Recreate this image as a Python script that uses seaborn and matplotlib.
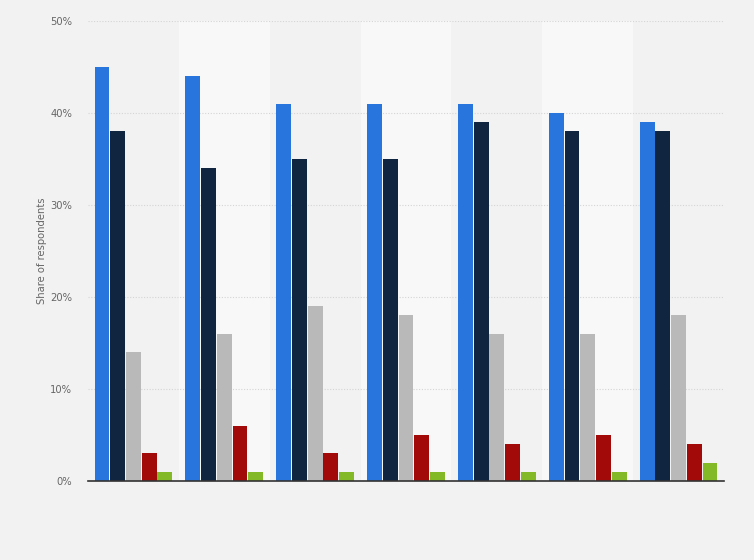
import pandas as pd
import matplotlib.pyplot as plt
import seaborn as sns
from matplotlib.ticker import FuncFormatter

# values (percent)
groups = ['G1', 'G2', 'G3', 'G4', 'G5', 'G6', 'G7']
series = ['Series 1', 'Series 2', 'Series 3', 'Series 4', 'Series 5']
s1 = [45, 44, 41, 41, 41, 40, 39]
s2 = [38, 34, 35, 35, 39, 38, 38]
s3 = [14, 16, 19, 18, 16, 16, 18]
s4 = [3, 6, 3, 5, 4, 5, 4]
s5 = [1, 1, 1, 1, 1, 1, 2]
colors = ['#2876dd', '#10253f', '#b9b9b9', '#a20a0a', '#83b827']

rows = []
for name, vals in zip(series, [s1, s2, s3, s4, s5]):
    for g, v in zip(groups, vals):
        rows.append({'group': g, 'series': name, 'value': v})
df = pd.DataFrame(rows)

bg = '#f2f2f2'
fig = plt.figure(figsize=(7.54, 5.6), dpi=100, facecolor=bg)
ax = fig.add_axes([88 / 754, 79 / 560, 636 / 754, 460 / 560])
ax.set_facecolor(bg)

# alternating column bands
for i in range(len(groups)):
    if i % 2 == 1:
        ax.axvspan(i - 0.5, i + 0.5, color='#f8f8f8', zorder=0, lw=0)

sns.barplot(data=df, x='group', y='value', hue='series', palette=colors,
            saturation=1, width=0.865, gap=0.05, legend=False, ax=ax, zorder=3,
            edgecolor='none', linewidth=0)

ax.set_xlim(-0.5, len(groups) - 0.5)
ax.set_ylim(0, 50)
ax.set_yticks([0, 10, 20, 30, 40, 50])
ax.yaxis.set_major_formatter(FuncFormatter(lambda v, p: f'{int(v)}%'))
ax.grid(axis='y', color='#d5d5d5', linestyle=(0, (1, 1.5)), linewidth=0.8, zorder=1)
ax.set_axisbelow(True)

for s in ['top', 'right', 'left']:
    ax.spines[s].set_visible(False)
ax.spines['bottom'].set_color('#333333')
ax.spines['bottom'].set_linewidth(1.2)
ax.spines['bottom'].set_zorder(5)

ax.set_xticks(range(len(groups)))
ax.set_xticklabels([])
ax.tick_params(axis='x', length=0)
ax.tick_params(axis='y', length=0, labelsize=7.2, labelcolor='#666666', pad=11.5)
ax.set_xlabel('')
ax.set_ylabel('Share of respondents', fontsize=7.2, color='#666666', labelpad=2.5)

fig.savefig('out.png', dpi=100, facecolor=bg)
